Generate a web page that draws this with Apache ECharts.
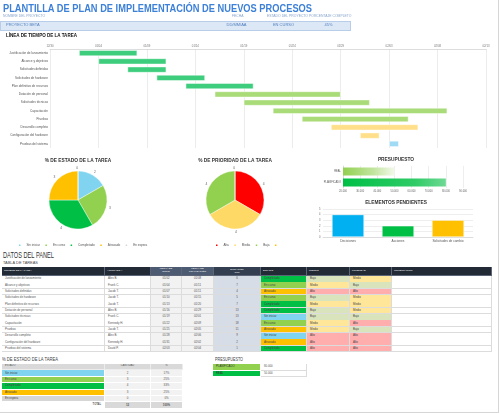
<!DOCTYPE html>
<html><head><meta charset="utf-8">
<script src="https://cdn.jsdelivr.net/npm/echarts@6/dist/echarts.min.js"></script>
<style>
html,body{margin:0;padding:0;background:#fff;}
body{width:500px;height:414px;position:relative;overflow:hidden;font-family:"Liberation Sans",Arial,sans-serif;}
#chart{position:absolute;left:0;top:0;width:500px;height:250px;z-index:1;}
.t{position:absolute;white-space:nowrap;line-height:1;transform-origin:0 0;z-index:2;}
.c{position:absolute;box-sizing:border-box;overflow:hidden;white-space:nowrap;z-index:2;display:flex;align-items:center;}
.c span{display:block;white-space:nowrap;line-height:1.05;}
#frame{position:absolute;left:0;top:0;width:498px;height:412px;border-right:1px solid #d6d6d6;border-bottom:1px solid #d6d6d6;z-index:0;}
</style></head>
<body>
<div id="frame"></div>
<div id="chart"></div>
<script>
// ---------- DATA ----------
const projectName = 'PROYECTO BETA';
const projectDate = 'DD/MM/AA';
const projectStatus = 'EN CURSO';
const projectPct = '45%';

const tasks = ['Justificación de lanzamiento','Alcance y objetivos','Solicitudes definidas','Solicitudes de hardware','Plan definitivo de recursos','Dotación de personal','Solicitudes técnicas','Capacitación','Pruebas','Desarrollo completo','Configuración del hardware','Pruebas del sistema'];
const assignees = ['Alex B.','Frank C.','Jacob T.','Jacob T.','Jacob T.','Alex B.','Frank C.','Kennedy H.','Jacob T.','Alex B.','Kennedy H.','David P.'];
const startDates = ['01/02','01/04','01/07','01/10','01/13','01/16','01/19','01/22','01/25','01/28','01/31','02/03'];
const durations = [6,7,4,5,7,13,13,18,11,9,2,1];
const taskStatus = ['Completado','En curso','Atrasado','En curso','Completado','Completado','Sin iniciar','En curso','Atrasado','Sin iniciar','Atrasado','Completado'];
const taskRisk = ['Bajo','Medio','Alto','Bajo','Medio','Bajo','Bajo','Medio','Medio','Alto','Alto','Alto'];
const taskPriority = ['Medio','Bajo','Alto','Medio','Medio','Medio','Bajo','Alto','Bajo','Alto','Alto','Alto'];
const timelineStart = '12/30';
const timelineEnd = '02/13';
const timelineStepDays = 5;

const statusNames = ['Sin iniciar','En curso','Completado','Atrasado','En espera'];
const statusCounts = [2,3,4,3,0];

const priorityNames = ['Alta','Media','Baja',' '];
const priorityCounts = [4,4,4,0];

const budgetLabels = ['PLANIFICADO','REAL'];
const budgetValues = [80000,50000];
const budgetAxisMin = 20000, budgetAxisMax = 90000, budgetStep = 10000;

const pendingLabels = ['Decisiones','Acciones','Solicitudes de cambio'];
const pendingValues = [4,2,3];

// ---------- STYLES ----------
const ganttColors = ['#3ecd7d','#3ecd7d','#3ecd7d','#3ecd7d','#3ecd7d','#a9db78','#a9db78','#a9db78','#a9db78','#ffdf89','#ffdf89','#9fdbf5'];
const statusColor = {'Sin iniciar':'#80d4f0','En curso':'#92d050','Completado':'#00bf45','Atrasado':'#ffc000','En espera':'#d6d6d6'};
const levelColor = {'Bajo':'#d9e4bd','Medio':'#ffe699','Alto':'#ffadad'};
const priorityColors = ['#ff0000','#ffd966','#92d050','#ffc000'];
const pendingColors = ['#00b0f0','#00bf45','#ffc000'];
const FONT = 'Liberation Sans';

// ---------- HELPERS ----------
function yearOf(m){ return m === 12 ? 2024 : 2025; }
function toDay(s){ const [m,d]=s.split('/').map(Number); return Math.round((Date.UTC(yearOf(m),m-1,d)-Date.UTC(2024,11,30))/864e5); }
function fromDay(n){ const dt=new Date(Date.UTC(2024,11,30)+n*864e5); return String(dt.getUTCMonth()+1).padStart(2,'0')+'/'+String(dt.getUTCDate()).padStart(2,'0'); }
function thousands(v){ return String(v).replace(/\B(?=(\d{3})+(?!\d))/g,'.'); }

const startDay = startDates.map(toDay);
const endDates = startDay.map((s,i)=>fromDay(s+durations[i]));
const axisMinDay = toDay(timelineStart), axisMaxDay = toDay(timelineEnd);

function txt(x, capTop, fs, content, o={}){
  const d=document.createElement('div'); d.className='t'; d.textContent=content;
  d.style.left=x+'px'; d.style.top=(capTop-0.13*fs)+'px'; d.style.fontSize=fs+'px';
  d.style.color=o.color||'#333'; d.style.fontWeight=o.bold?'bold':'normal';
  document.body.appendChild(d);
  if(o.width){ const w=d.getBoundingClientRect().width; d.style.transform='scaleX('+(o.width/w)+')'; }
  return d;
}
function cell(x,y,w,h,content,o={}){
  const d=document.createElement('div'); d.className='c';
  d.style.left=x+'px'; d.style.top=y+'px'; d.style.width=w+'px'; d.style.height=h+'px';
  d.style.background=o.bg||'#fff';
  d.style.borderRight='1px solid '+(o.bc||'#dcdcdc'); d.style.borderBottom='1px solid '+(o.bc||'#dcdcdc');
  d.style.justifyContent=o.align==='center'?'center':(o.align==='right'?'flex-end':'flex-start');
  d.style.padding='0 '+(o.pad==null?3:o.pad)+'px';
  const s=document.createElement('span'); s.style.fontSize=(o.fs||3)+'px'; s.style.color=o.color||'#555';
  s.style.fontWeight=o.bold?'bold':'normal'; s.style.textAlign=o.align||'left';
  s.innerHTML=content; d.appendChild(s); document.body.appendChild(d); return d;
}

// ---------- HEADER ----------
txt(3, 3.3, 11.6, 'PLANTILLA DE PLAN DE IMPLEMENTACIÓN DE NUEVOS PROCESOS', {bold:true, color:'#3d80d8', width:309});
txt(3, 15.6, 3.4, 'NOMBRE DEL PROYECTO', {color:'#86a4cc'});
txt(232, 15.6, 3.4, 'FECHA', {color:'#86a4cc'});
txt(267, 15.6, 3.4, 'ESTADO DEL PROYECTO', {color:'#86a4cc'});
txt(309, 15.6, 3.4, 'PORCENTAJE COMPLETO', {color:'#86a4cc'});
const hb = {bg:'#dde8f6', bc:'#b7cde9', color:'#4f7fc0', fs:4};
const hc = [
  cell(0,20.5,214,10,projectName,Object.assign({},hb,{pad:5})),
  cell(213,20.5,48,10,projectDate,Object.assign({},hb,{align:'center'})),
  cell(260,20.5,48,10,projectStatus,Object.assign({},hb,{align:'center'})),
  cell(307,20.5,44,10,projectPct,Object.assign({},hb,{align:'center'}))
];
hc.forEach((d,i)=>{ d.style.borderTop='1px solid #b7cde9'; if(i===0) d.style.borderLeft='1px solid #b7cde9'; });
txt(6, 33.4, 5.4, 'LÍNEA DE TIEMPO DE LA TAREA', {bold:true, color:'#111', width:71});

// ---------- BOTTOM TEXT ----------
txt(3, 252, 8.4, 'DATOS DEL PANEL', {color:'#333', width:51});
txt(3, 262, 4.2, 'TABLA DE TAREAS', {color:'#444', width:35});
txt(2, 359, 4.6, '% DE ESTADO DE LA TAREA', {color:'#444', width:56});
txt(215, 359, 4.6, 'PRESUPUESTO', {color:'#444', width:28});

// ---------- TASK TABLE ----------
const colX = [2,105,151,182,214,261,307,350,392,492];
const headTop = 267, headH = 9, rowH = 6.33;
const headers = ['NOMBRE DE LA TAREA','ASIGNADO A','FECHA DE<br>INICIO','FECHA DE<br>FINALIZACIÓN','DURACIÓN<br><span style="font-size:2px">(días)</span>','ESTADO','RIESGO','PRIORIDAD','COMENTARIOS'];
const headBg = ['#222a35','#222a35','#4d5b72','#4d5b72','#333f50','#222a35','#222a35','#222a35','#222a35'];
headers.forEach((h,j)=>{
  cell(colX[j], headTop, colX[j+1]-colX[j], headH, h, {bg:headBg[j], bc:'#5b6577', color:'#fff', fs:2.5, align:(j>=2&&j<=4)?'center':'left', pad:2});
});
tasks.forEach((t,i)=>{
  const y = headTop+headH+i*rowH;
  const vals = [t, assignees[i], startDates[i], endDates[i], durations[i], taskStatus[i], taskRisk[i], taskPriority[i], ''];
  const bgs = ['#fff','#fff','#f2f2f2','#f2f2f2','#d7dde6', statusColor[taskStatus[i]], levelColor[taskRisk[i]], levelColor[taskPriority[i]], '#fff'];
  vals.forEach((v,j)=>{
    cell(colX[j], y, colX[j+1]-colX[j], rowH+0.4, String(v), {bg:bgs[j], fs:2.9, align:(j>=2&&j<=4)?'center':'left', pad:(j>=2&&j<=4)?0:3, color:(j>=5&&j<=7)?'#444':'#555'});
  });
});

// ---------- STATUS TABLE ----------
const sX = [2,105,151,183];
const sTop = 364, sH = 6.4;
const totalCount = statusCounts.reduce((a,b)=>a+b,0);
['ESTADO','CANTIDAD','%'].forEach((h,j)=>cell(sX[j], sTop, sX[j+1]-sX[j], sH, h, {bg:'#d9d9d9', bc:'#ececec', fs:2.6, color:'#555', align:j?'center':'left'}));
statusNames.forEach((n,i)=>{
  const y = sTop+sH*(i+1);
  cell(sX[0], y, sX[1]-sX[0], sH, n, {bg:statusColor[n], bc:'#fff', fs:2.9, color:'#444'});
  cell(sX[1], y, sX[2]-sX[1], sH, String(statusCounts[i]), {bg:'#f2f2f2', bc:'#fff', fs:2.9, align:'center'});
  cell(sX[2], y, sX[3]-sX[2], sH, Math.round(statusCounts[i]/totalCount*100)+'%', {bg:'#f2f2f2', bc:'#fff', fs:2.9, align:'center'});
});
const tY = sTop+sH*(statusNames.length+1);
cell(sX[0], tY, sX[1]-sX[0], sH+0.5, 'TOTAL', {bg:'#fff', bc:'#fff', fs:2.6, align:'right', bold:true});
cell(sX[1], tY, sX[2]-sX[1], sH+0.5, String(totalCount), {bg:'#d9d9d9', bc:'#fff', fs:2.9, align:'center', bold:true});
cell(sX[2], tY, sX[3]-sX[2], sH+0.5, '100%', {bg:'#d9d9d9', bc:'#fff', fs:2.9, align:'center', bold:true});

// ---------- BUDGET TABLE ----------
const budgetRowColors = ['#92d050','#00bf45'];
budgetLabels.forEach((n,i)=>{
  const y = 364+i*6.6;
  cell(213, y, 48, 6.6, n, {bg:budgetRowColors[i], bc:'#fff', fs:2.8, color:'#333'});
  cell(261, y, 46, 6.6, thousands(budgetValues[i]), {bg:'#fff', bc:'#dcdcdc', fs:2.8});
});

// ---------- CHARTS ----------
const chart = echarts.init(document.getElementById('chart'), null, {renderer:'canvas'});
const titleStyle = (x,y,text)=>({type:'text', x, y, style:{text, align:'center', verticalAlign:'middle', font:'bold 4.8px "'+FONT+'"', fill:'#333'}});
const axLbl = (fs,color)=>({fontSize:fs, color, fontFamily:FONT});

const option = {
  animation:false,
  backgroundColor:'transparent',
  textStyle:{fontFamily:FONT},
  graphic:[
    titleStyle(78,161,'% DE ESTADO DE LA TAREA'),
    titleStyle(235,161,'% DE PRIORIDAD DE LA TAREA'),
    titleStyle(396,160,'PRESUPUESTO'),
    titleStyle(396,203,'ELEMENTOS PENDIENTES')
  ],
  legend:[
    {data:statusNames, left:12, top:237.5, icon:'rect', itemWidth:3.5, itemHeight:3.5, itemGap:3.5, textStyle:axLbl(3.1,'#555'), selectedMode:false},
    {data:priorityNames, left:209, top:237.5, icon:'rect', itemWidth:3.5, itemHeight:3.5, itemGap:3.5, textStyle:axLbl(3.1,'#555'), selectedMode:false}
  ],
  grid:[
    {left:50, top:49, width:436, height:99},
    {left:343, top:166, width:120, height:22},
    {left:323, top:209, width:150, height:28}
  ],
  xAxis:[
    {gridIndex:0, type:'value', position:'top', min:axisMinDay, max:axisMaxDay, interval:timelineStepDays,
     axisLine:{show:true, lineStyle:{color:'#d4d4d4', width:0.8}}, axisTick:{show:false},
     axisLabel:Object.assign(axLbl(2.8,'#777'),{margin:1.5, formatter:v=>fromDay(v)}),
     splitLine:{show:true, lineStyle:{color:'#e4e4e4', width:0.7}}},
    {gridIndex:1, type:'value', min:budgetAxisMin, max:budgetAxisMax, interval:budgetStep,
     axisLine:{show:false}, axisTick:{show:false},
     axisLabel:Object.assign(axLbl(2.6,'#666'),{margin:2, formatter:v=>thousands(v)}),
     splitLine:{show:true, lineStyle:{color:'#e2e2e2', width:0.6}}},
    {gridIndex:2, type:'category', data:pendingLabels,
     axisLine:{show:true, lineStyle:{color:'#d0d0d0', width:0.6}}, axisTick:{show:false},
     axisLabel:Object.assign(axLbl(3.2,'#555'),{margin:2.5})}
  ],
  yAxis:[
    {gridIndex:0, type:'category', data:tasks, inverse:true,
     axisLine:{show:false}, axisTick:{show:false},
     axisLabel:Object.assign(axLbl(3.1,'#555'),{margin:2})},
    {gridIndex:1, type:'category', data:budgetLabels,
     axisLine:{show:true, lineStyle:{color:'#cfcfcf', width:0.6}}, axisTick:{show:false},
     axisLabel:Object.assign(axLbl(2.6,'#555'),{margin:2})},
    {gridIndex:2, type:'value', min:0, max:5, interval:1,
     axisLine:{show:false}, axisTick:{show:false},
     axisLabel:Object.assign(axLbl(2.6,'#666'),{margin:2.5}),
     splitLine:{show:true, lineStyle:{color:'#e2e2e2', width:0.6}}}
  ],
  series:[
    {type:'bar', xAxisIndex:0, yAxisIndex:0, stack:'gantt', barWidth:6, silent:true,
     itemStyle:{color:'transparent'}, data:startDay.map(s=>s-axisMinDay)},
    {type:'bar', xAxisIndex:0, yAxisIndex:0, stack:'gantt', barWidth:6,
     data:durations.map((d,i)=>({value:d, itemStyle:{color:ganttColors[i], borderColor:'rgba(255,255,255,0.8)', borderWidth:0.6}}))},
    {type:'pie', name:'estado', center:[78,200], radius:29, startAngle:90, clockwise:true,
     data:statusNames.map((n,i)=>({name:n, value:statusCounts[i], itemStyle:{color:statusColor[n]}})),
     label:{show:true, position:'outside', fontSize:3.3, color:'#666', fontFamily:FONT, formatter:'{c}', distanceToLabelLine:0},
     labelLine:{show:false, length:3, length2:0}, itemStyle:{borderColor:'#fff', borderWidth:0.4}},
    {type:'pie', name:'prioridad', center:[235,200], radius:29, startAngle:90, clockwise:true,
     data:priorityNames.map((n,i)=>({name:n, value:priorityCounts[i], itemStyle:{color:priorityColors[i]}})),
     label:{show:true, position:'outside', fontSize:3.3, color:'#666', fontFamily:FONT, formatter:'{c}', distanceToLabelLine:0},
     labelLine:{show:false, length:3, length2:0}, itemStyle:{borderColor:'#fff', borderWidth:0.4}},
    {type:'bar', xAxisIndex:1, yAxisIndex:1, stack:'budget', barWidth:8, silent:true,
     itemStyle:{color:'transparent'}, data:budgetValues.map(()=>budgetAxisMin)},
    {type:'bar', xAxisIndex:1, yAxisIndex:1, stack:'budget', barWidth:8,
     data:budgetValues.map((v,i)=>({value:v-budgetAxisMin, itemStyle:{color: i===0
       ? new echarts.graphic.LinearGradient(0,0,1,0,[{offset:0,color:'#00bf45'},{offset:0.7,color:'#2fcb66'},{offset:1,color:'#6fd995'}])
       : new echarts.graphic.LinearGradient(0,0,1,0,[{offset:0,color:'#92d050'},{offset:0.6,color:'#c3e59f'},{offset:1,color:'#f3f9ec'}])}}))},
    {type:'bar', xAxisIndex:2, yAxisIndex:2, barWidth:32,
     data:pendingValues.map((v,i)=>({value:v, itemStyle:{color:pendingColors[i], borderColor:'rgba(255,255,255,0.6)', borderWidth:0.6}}))}
  ]
};
chart.setOption(option);
</script>
</body></html>
